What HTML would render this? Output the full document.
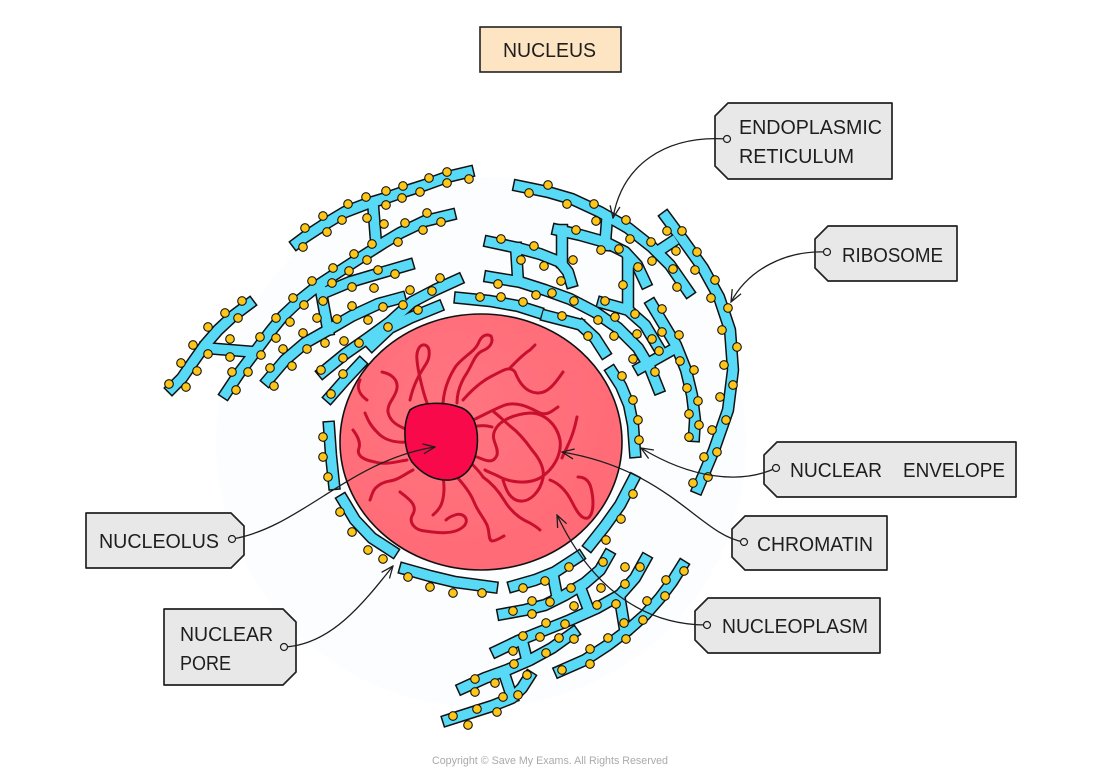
<!DOCTYPE html>
<html><head><meta charset="utf-8"><style>
html,body{margin:0;padding:0;background:#fff;}
svg{display:block;}
.t{font-family:"Liberation Sans",sans-serif;font-size:20px;fill:#1e1e1e;}
.ob{fill:none;stroke:#111;stroke-width:12.5;stroke-linecap:square;stroke-linejoin:round;}
.oc{fill:none;stroke:#58d9f6;stroke-width:9.5;stroke-linecap:square;stroke-linejoin:round;}
.dots circle{fill:#ffc61a;stroke:#111;stroke-width:1.1;}
.chr path{fill:none;stroke:#c8102e;stroke-width:3;stroke-linecap:round;stroke-linejoin:round;}
.con{fill:none;stroke:#1e1e1e;stroke-width:1.3;}
.tag{fill:#e8e8e8;stroke:#222;stroke-width:1.7;stroke-linejoin:round;}
</style></head><body>
<svg width="1100" height="781" viewBox="0 0 1100 781" xmlns="http://www.w3.org/2000/svg">
<defs>
<marker id="ah" viewBox="0 0 14 12" refX="13" refY="6" markerWidth="14" markerHeight="12" markerUnits="userSpaceOnUse" orient="auto">
<path d="M1,1 L13,6 L1,11" fill="none" stroke="#1e1e1e" stroke-width="1.3"/>
</marker>
<radialGradient id="ng" cx="0.4" cy="0.35" r="0.7">
<stop offset="0" stop-color="#ff7580"/><stop offset="1" stop-color="#ff6a76"/>
</radialGradient>
</defs>

<!-- faint glow -->
<circle cx="481" cy="442" r="265" fill="#fbfdff"/>

<!-- Title -->
<rect x="480" y="27" width="141" height="45" fill="#fde4c3" stroke="#222" stroke-width="1.6"/>
<text class="t" x="503" y="57" textLength="93" lengthAdjust="spacingAndGlyphs">NUCLEUS</text>

<!-- ER strips -->
<g id="strips">
<g class="ob">
<path d="M297,243 L305,237 L325,224 L345,212 L366,204 L386,198 L403,192 L425,185 L447,177 L468,172"/>
<path d="M373,204 L376,242"/>
<path d="M450,215 L425,221 L400,233 L385,242 L363,256 L343,269 L320,284 L300,300 L283,316 L270,332 L255,352 L240,372 L226,393"/>
<path d="M249,304 L233,316 L218,330 L205,345 L193,362 L182,378 L172,388"/>
<path d="M205,348 L255,352"/>
<path d="M326,292 L350,282 L377,274 L408,265"/>
<path d="M320,286 L328,330"/>
<path d="M268,380 L285,360 L305,343 L328,330 L352,316 L378,304 L400,298"/>
<path d="M323,372 L345,354 L368,338 L390,322 L412,302 L435,290 L457,280"/>
<path d="M372,345 L390,328 L410,318 L437,307"/>
<path d="M330,397 L345,380 L360,364"/>
<path d="M329,427 L331,455 L334,484"/>
<path d="M343,500 L355,520 L372,538 L392,551"/>
<path d="M405,569 L430,576 L455,582 L492,587"/>
<path d="M519,186 L548,192 L572,199 L600,212 L628,228 L652,247 L670,265 L688,291"/>
<path d="M607,220 L605,245"/>
<path d="M558,230 L580,235 L605,242 L625,252 L637,265 L645,282"/>
<path d="M490,242 L518,248 L540,254 L560,262 L568,272 L571,282"/>
<path d="M562,262 L562,230"/>
<path d="M516,248 L518,280"/>
<path d="M490,277 L520,282 L545,290 L570,299 L595,312 L618,328 L638,348 L650,368 L658,388"/>
<path d="M628,262 L628,305"/>
<path d="M603,303 L628,310 L645,325 L660,350"/>
<path d="M652,305 L664,325 L676,345 L686,370 L692,395 L695,420 L694,436"/>
<path d="M640,368 L672,350"/>
<path d="M666,217 L683,240 L703,268 L719,297 L730,330 L733,370 L728,410 L714,450 L698,488"/>
<path d="M672,242 L660,250"/>
<path d="M460,298 L490,301 L518,306 L537,312"/>
<path d="M547,316 L578,324"/>
<path d="M582,326 L595,338 L604,352"/>
<path d="M612,372 L621,386 L629,405 L633,425 L635,452"/>
<path d="M590,545 L605,526 L620,505 L633,480"/>
<path d="M514,586 L535,580 L555,572 L578,557"/>
<path d="M553,575 L557,596"/>
<path d="M503,614 L525,610 L545,605 L565,595 L585,583 L600,570 L608,556"/>
<path d="M580,587 L588,608"/>
<path d="M497,651 L520,640 L545,630 L570,620 L597,608 L620,595 L635,578 L645,560"/>
<path d="M522,640 L527,660"/>
<path d="M463,688 L485,678 L507,670 L530,660 L552,648 L573,633"/>
<path d="M505,676 L512,697"/>
<path d="M448,720 L470,713 L492,706 L512,698 L522,688 L529,677"/>
<path d="M560,671 L585,660 L608,645 L628,630 L645,615 L660,598 L672,582 L682,566"/>
<path d="M625,630 L620,600"/>
</g>
<g class="oc">
<path d="M297,243 L305,237 L325,224 L345,212 L366,204 L386,198 L403,192 L425,185 L447,177 L468,172"/>
<path d="M373,204 L376,242"/>
<path d="M450,215 L425,221 L400,233 L385,242 L363,256 L343,269 L320,284 L300,300 L283,316 L270,332 L255,352 L240,372 L226,393"/>
<path d="M249,304 L233,316 L218,330 L205,345 L193,362 L182,378 L172,388"/>
<path d="M205,348 L255,352"/>
<path d="M326,292 L350,282 L377,274 L408,265"/>
<path d="M320,286 L328,330"/>
<path d="M268,380 L285,360 L305,343 L328,330 L352,316 L378,304 L400,298"/>
<path d="M323,372 L345,354 L368,338 L390,322 L412,302 L435,290 L457,280"/>
<path d="M372,345 L390,328 L410,318 L437,307"/>
<path d="M330,397 L345,380 L360,364"/>
<path d="M329,427 L331,455 L334,484"/>
<path d="M343,500 L355,520 L372,538 L392,551"/>
<path d="M405,569 L430,576 L455,582 L492,587"/>
<path d="M519,186 L548,192 L572,199 L600,212 L628,228 L652,247 L670,265 L688,291"/>
<path d="M607,220 L605,245"/>
<path d="M558,230 L580,235 L605,242 L625,252 L637,265 L645,282"/>
<path d="M490,242 L518,248 L540,254 L560,262 L568,272 L571,282"/>
<path d="M562,262 L562,230"/>
<path d="M516,248 L518,280"/>
<path d="M490,277 L520,282 L545,290 L570,299 L595,312 L618,328 L638,348 L650,368 L658,388"/>
<path d="M628,262 L628,305"/>
<path d="M603,303 L628,310 L645,325 L660,350"/>
<path d="M652,305 L664,325 L676,345 L686,370 L692,395 L695,420 L694,436"/>
<path d="M640,368 L672,350"/>
<path d="M666,217 L683,240 L703,268 L719,297 L730,330 L733,370 L728,410 L714,450 L698,488"/>
<path d="M672,242 L660,250"/>
<path d="M460,298 L490,301 L518,306 L537,312"/>
<path d="M547,316 L578,324"/>
<path d="M582,326 L595,338 L604,352"/>
<path d="M612,372 L621,386 L629,405 L633,425 L635,452"/>
<path d="M590,545 L605,526 L620,505 L633,480"/>
<path d="M514,586 L535,580 L555,572 L578,557"/>
<path d="M553,575 L557,596"/>
<path d="M503,614 L525,610 L545,605 L565,595 L585,583 L600,570 L608,556"/>
<path d="M580,587 L588,608"/>
<path d="M497,651 L520,640 L545,630 L570,620 L597,608 L620,595 L635,578 L645,560"/>
<path d="M522,640 L527,660"/>
<path d="M463,688 L485,678 L507,670 L530,660 L552,648 L573,633"/>
<path d="M505,676 L512,697"/>
<path d="M448,720 L470,713 L492,706 L512,698 L522,688 L529,677"/>
<path d="M560,671 L585,660 L608,645 L628,630 L645,615 L660,598 L672,582 L682,566"/>
<path d="M625,630 L620,600"/>
</g>
</g>

<!-- ribosomes -->
<g class="dots">
<circle cx="305" cy="228" r="4.3"/><circle cx="323" cy="216" r="4.3"/><circle cx="348" cy="204" r="4.3"/><circle cx="366" cy="197" r="4.3"/><circle cx="386" cy="191" r="4.3"/><circle cx="403" cy="186" r="4.3"/><circle cx="429" cy="178" r="4.3"/><circle cx="447" cy="172" r="4.3"/><circle cx="469" cy="179" r="4.3"/>
<circle cx="447" cy="183" r="4.3"/><circle cx="420" cy="192" r="4.3"/><circle cx="402" cy="198" r="4.3"/><circle cx="386" cy="205" r="4.3"/><circle cx="342" cy="220" r="4.3"/><circle cx="327" cy="232" r="4.3"/><circle cx="303" cy="247" r="4.3"/>
<circle cx="367" cy="218" r="4.3"/><circle cx="384" cy="224" r="4.3"/><circle cx="405" cy="223" r="4.3"/><circle cx="427" cy="213" r="4.3"/><circle cx="441" cy="222" r="4.3"/><circle cx="423" cy="230" r="4.3"/><circle cx="398" cy="242" r="4.3"/>
<circle cx="372" cy="244" r="4.3"/><circle cx="354" cy="254" r="4.3"/><circle cx="367" cy="260" r="4.3"/><circle cx="333" cy="268" r="4.3"/><circle cx="349" cy="271" r="4.3"/><circle cx="378" cy="270" r="4.3"/><circle cx="395" cy="274" r="4.3"/>
<circle cx="312" cy="281" r="4.3"/><circle cx="332" cy="283" r="4.3"/><circle cx="352" cy="287" r="4.3"/><circle cx="374" cy="288" r="4.3"/><circle cx="440" cy="278" r="4.3"/><circle cx="410" cy="290" r="4.3"/><circle cx="432" cy="291" r="4.3"/>
<circle cx="293" cy="298" r="4.3"/><circle cx="323" cy="301" r="4.3"/><circle cx="304" cy="305" r="4.3"/><circle cx="352" cy="306" r="4.3"/><circle cx="383" cy="307" r="4.3"/><circle cx="403" cy="305" r="4.3"/><circle cx="418" cy="310" r="4.3"/>
<circle cx="276" cy="318" r="4.3"/><circle cx="290" cy="322" r="4.3"/><circle cx="317" cy="318" r="4.3"/><circle cx="337" cy="319" r="4.3"/><circle cx="368" cy="320" r="4.3"/><circle cx="388" cy="327" r="4.3"/>
<circle cx="260" cy="337" r="4.3"/><circle cx="276" cy="338" r="4.3"/><circle cx="303" cy="333" r="4.3"/><circle cx="325" cy="343" r="4.3"/><circle cx="344" cy="341" r="4.3"/><circle cx="359" cy="343" r="4.3"/>
<circle cx="261" cy="355" r="4.3"/><circle cx="283" cy="349" r="4.3"/><circle cx="307" cy="349" r="4.3"/><circle cx="343" cy="358" r="4.3"/>
<circle cx="270" cy="368" r="4.3"/><circle cx="292" cy="366" r="4.3"/><circle cx="321" cy="370" r="4.3"/><circle cx="343" cy="374" r="4.3"/><circle cx="274" cy="386" r="4.3"/><circle cx="331" cy="394" r="4.3"/>
<circle cx="242" cy="301" r="4.3"/><circle cx="225" cy="313" r="4.3"/><circle cx="238" cy="318" r="4.3"/><circle cx="208" cy="327" r="4.3"/><circle cx="230" cy="339" r="4.3"/><circle cx="193" cy="345" r="4.3"/><circle cx="208" cy="354" r="4.3"/><circle cx="230" cy="357" r="4.3"/><circle cx="181" cy="363" r="4.3"/><circle cx="197" cy="371" r="4.3"/><circle cx="232" cy="372" r="4.3"/><circle cx="248" cy="372" r="4.3"/><circle cx="236" cy="390" r="4.3"/><circle cx="169" cy="384" r="4.3"/><circle cx="186" cy="387" r="4.3"/>
<circle cx="323" cy="437" r="4.3"/><circle cx="323" cy="457" r="4.3"/><circle cx="328" cy="477" r="4.3"/><circle cx="340" cy="512" r="4.3"/><circle cx="352" cy="532" r="4.3"/><circle cx="368" cy="550" r="4.3"/><circle cx="383" cy="559" r="4.3"/><circle cx="408" cy="577" r="4.3"/><circle cx="430" cy="587" r="4.3"/><circle cx="453" cy="593" r="4.3"/><circle cx="482" cy="593" r="4.3"/>
<circle cx="548" cy="185" r="4.3"/><circle cx="529" cy="193" r="4.3"/><circle cx="567" cy="204" r="4.3"/><circle cx="594" cy="204" r="4.3"/><circle cx="596" cy="221" r="4.3"/><circle cx="626" cy="220" r="4.3"/><circle cx="630" cy="239" r="4.3"/><circle cx="651" cy="242" r="4.3"/><circle cx="652" cy="261" r="4.3"/><circle cx="673" cy="269" r="4.3"/><circle cx="677" cy="287" r="4.3"/>
<circle cx="667" cy="231" r="4.3"/><circle cx="682" cy="231" r="4.3"/><circle cx="676" cy="251" r="4.3"/><circle cx="697" cy="252" r="4.3"/><circle cx="695" cy="270" r="4.3"/><circle cx="715" cy="280" r="4.3"/><circle cx="711" cy="298" r="4.3"/><circle cx="728" cy="308" r="4.3"/><circle cx="722" cy="330" r="4.3"/><circle cx="737" cy="347" r="4.3"/><circle cx="724" cy="365" r="4.3"/><circle cx="733" cy="385" r="4.3"/><circle cx="720" cy="397" r="4.3"/><circle cx="726" cy="420" r="4.3"/><circle cx="712" cy="430" r="4.3"/><circle cx="717" cy="452" r="4.3"/><circle cx="704" cy="457" r="4.3"/><circle cx="708" cy="477" r="4.3"/><circle cx="693" cy="483" r="4.3"/>
<circle cx="501" cy="239" r="4.3"/><circle cx="534" cy="246" r="4.3"/><circle cx="576" cy="230" r="4.3"/><circle cx="601" cy="250" r="4.3"/><circle cx="619" cy="249" r="4.3"/><circle cx="638" cy="267" r="4.3"/><circle cx="521" cy="260" r="4.3"/><circle cx="544" cy="266" r="4.3"/><circle cx="573" cy="260" r="4.3"/><circle cx="561" cy="281" r="4.3"/><circle cx="623" cy="285" r="4.3"/>
<circle cx="498" cy="284" r="4.3"/><circle cx="536" cy="295" r="4.3"/><circle cx="552" cy="293" r="4.3"/><circle cx="574" cy="301" r="4.3"/><circle cx="605" cy="301" r="4.3"/><circle cx="615" cy="317" r="4.3"/><circle cx="635" cy="314" r="4.3"/><circle cx="598" cy="320" r="4.3"/><circle cx="614" cy="336" r="4.3"/><circle cx="637" cy="334" r="4.3"/><circle cx="652" cy="339" r="4.3"/><circle cx="659" cy="351" r="4.3"/>
<circle cx="662" cy="309" r="4.3"/><circle cx="662" cy="332" r="4.3"/><circle cx="679" cy="335" r="4.3"/><circle cx="680" cy="361" r="4.3"/><circle cx="694" cy="370" r="4.3"/><circle cx="687" cy="388" r="4.3"/><circle cx="698" cy="401" r="4.3"/><circle cx="689" cy="414" r="4.3"/><circle cx="699" cy="425" r="4.3"/><circle cx="689" cy="437" r="4.3"/><circle cx="633" cy="359" r="4.3"/><circle cx="655" cy="372" r="4.3"/>
<circle cx="480" cy="297" r="4.3"/><circle cx="501" cy="297" r="4.3"/><circle cx="523" cy="302" r="4.3"/><circle cx="562" cy="316" r="4.3"/><circle cx="588" cy="336" r="4.3"/><circle cx="622" cy="376" r="4.3"/><circle cx="633" cy="400" r="4.3"/><circle cx="638" cy="420" r="4.3"/><circle cx="639" cy="440" r="4.3"/>
<circle cx="633" cy="494" r="4.3"/><circle cx="621" cy="519" r="4.3"/><circle cx="606" cy="540" r="4.3"/>
<circle cx="569" cy="567" r="4.3"/><circle cx="545" cy="581" r="4.3"/><circle cx="523" cy="588" r="4.3"/><circle cx="603" cy="562" r="4.3"/><circle cx="625" cy="567" r="4.3"/><circle cx="640" cy="567" r="4.3"/><circle cx="571" cy="588" r="4.3"/><circle cx="550" cy="602" r="4.3"/><circle cx="532" cy="601" r="4.3"/><circle cx="513" cy="611" r="4.3"/><circle cx="532" cy="614" r="4.3"/><circle cx="574" cy="606" r="4.3"/><circle cx="601" cy="588" r="4.3"/><circle cx="625" cy="584" r="4.3"/><circle cx="597" cy="605" r="4.3"/><circle cx="616" cy="604" r="4.3"/><circle cx="624" cy="623" r="4.3"/><circle cx="643" cy="620" r="4.3"/><circle cx="546" cy="623" r="4.3"/><circle cx="565" cy="624" r="4.3"/><circle cx="523" cy="636" r="4.3"/><circle cx="540" cy="637" r="4.3"/><circle cx="513" cy="651" r="4.3"/><circle cx="559" cy="638" r="4.3"/><circle cx="574" cy="639" r="4.3"/><circle cx="546" cy="653" r="4.3"/><circle cx="514" cy="664" r="4.3"/><circle cx="590" cy="649" r="4.3"/><circle cx="608" cy="638" r="4.3"/><circle cx="626" cy="639" r="4.3"/><circle cx="647" cy="601" r="4.3"/><circle cx="665" cy="596" r="4.3"/><circle cx="666" cy="580" r="4.3"/><circle cx="684" cy="571" r="4.3"/><circle cx="590" cy="664" r="4.3"/><circle cx="562" cy="670" r="4.3"/><circle cx="475" cy="679" r="4.3"/><circle cx="495" cy="683" r="4.3"/><circle cx="527" cy="675" r="4.3"/><circle cx="475" cy="692" r="4.3"/><circle cx="503" cy="697" r="4.3"/><circle cx="518" cy="695" r="4.3"/><circle cx="453" cy="716" r="4.3"/><circle cx="477" cy="709" r="4.3"/><circle cx="497" cy="712" r="4.3"/><circle cx="468" cy="725" r="4.3"/>
</g>

<!-- Nucleus -->
<ellipse cx="481" cy="442" rx="141" ry="128" fill="url(#ng)" stroke="#111" stroke-width="1.6"/>

<!-- Chromatin -->
<g class="chr">
<path d="M427,403 C423,392 418,372 417,360 C416,350 420,344 425,345 C431,347 430,358 426,364 C421,372 414,382 410,400"/>
<path d="M443,403 C444,390 448,378 456,366 C464,356 474,352 478,344 C481,336 486,333 491,336 C494,342 490,348 482,351 C474,355 472,366 465,376 C459,386 457,395 457,403"/>
<path d="M463,400 C470,392 480,382 492,376 C502,371 510,365 515,372 C519,382 525,392 537,393 C548,394 556,382 563,372"/>
<path d="M510,368 C516,362 522,355 530,350 L535,345"/>
<path d="M408,430 C398,426 390,422 388,412 C387,403 396,397 397,388 C398,380 392,374 382,372"/>
<path d="M407,442 C395,443 384,440 377,432 C370,425 368,420 365,413"/>
<path d="M407,460 C395,462 385,465 375,462 C364,460 356,456 359,448 C361,441 356,434 353,430"/>
<path d="M413,470 C405,474 398,480 390,481 C382,482 375,487 373,492 C371,496 371,498 370,500"/>
<path d="M400,492 C408,498 418,505 413,514 C408,522 414,530 425,531 C438,533 455,535 464,526 C470,519 463,512 455,515 C449,517 446,520 446,520"/>
<path d="M443,477 C445,488 444,500 440,507 C437,512 434,514 433,515"/>
<path d="M457,477 C463,484 470,492 474,502 C478,512 484,518 487,525 C490,532 488,540 492,541 C496,541 500,538 504,536"/>
<path d="M477,457 C485,460 493,465 497,455 C499,446 490,440 495,430 C500,420 515,414 530,413 C545,413 557,425 560,440 C562,455 553,470 540,478 C527,485 508,482 498,476 C492,473 488,472 485,470"/>
<path d="M503,480 C506,490 510,500 520,501 C530,502 540,492 543,478 C545,467 538,457 532,450 C525,440 518,432 510,426 C503,420 498,415 494,412"/>
<path d="M473,420 C482,416 492,410 505,405 C518,401 530,408 540,413 C548,416 553,410 558,407"/>
<path d="M577,417 C575,427 572,437 568,445 C565,452 563,455 562,458"/>
<path d="M550,480 C558,483 566,490 572,502 C577,512 582,520 588,518 C594,514 594,500 591,488 C589,480 584,477 578,477"/>
<path d="M483,477 C490,482 498,490 504,500 C510,510 518,518 530,523 C535,526 538,528 540,530"/>
<path d="M470,462 C476,468 480,472 483,477"/>
<path d="M472,427 C480,425 486,425 492,427"/>
<path d="M367,400 C360,395 356,388 360,380"/>
</g>

<!-- Nucleolus -->
<path d="M410,410 C420,402 445,401 462,408 C475,414 479,430 477,448 C475,465 466,478 450,480 C435,481 422,474 412,462 C404,450 402,425 410,410 Z" fill="#f7094a" stroke="#111" stroke-width="1.6"/>

<!-- Tags -->
<polygon class="tag" points="728,103 892,103 892,179 728,179 715,166 715,116"/>
<polygon class="tag" points="828,226 957,226 957,281 828,281 815,268 815,239"/>
<polygon class="tag" points="777,442 1016,442 1016,497 777,497 764,484 764,455"/>
<polygon class="tag" points="745,516 887,516 887,570 745,570 732,557 732,529"/>
<polygon class="tag" points="708,598 880,598 880,653 708,653 695,640 695,611"/>
<polygon class="tag" points="86,513 231,513 244,526 244,555 231,568 86,568"/>
<polygon class="tag" points="164,609 283,609 296,622 296,672 283,685 164,685"/>

<text class="t" x="739" y="134" textLength="143" lengthAdjust="spacingAndGlyphs">ENDOPLASMIC</text>
<text class="t" x="739" y="163" textLength="115" lengthAdjust="spacingAndGlyphs">RETICULUM</text>
<text class="t" x="842" y="262" textLength="101" lengthAdjust="spacingAndGlyphs">RIBOSOME</text>
<text class="t" x="790" y="477" textLength="92" lengthAdjust="spacingAndGlyphs">NUCLEAR</text>
<text class="t" x="903" y="477" textLength="102" lengthAdjust="spacingAndGlyphs">ENVELOPE</text>
<text class="t" x="757" y="551" textLength="116" lengthAdjust="spacingAndGlyphs">CHROMATIN</text>
<text class="t" x="722" y="633" textLength="146" lengthAdjust="spacingAndGlyphs">NUCLEOPLASM</text>
<text class="t" x="99" y="548" textLength="120" lengthAdjust="spacingAndGlyphs">NUCLEOLUS</text>
<text class="t" x="180" y="641" textLength="93" lengthAdjust="spacingAndGlyphs">NUCLEAR</text>
<text class="t" x="180" y="670" textLength="51" lengthAdjust="spacingAndGlyphs">PORE</text>

<!-- Connectors -->
<path class="con" d="M727,139 C665,135 622,165 613,218" marker-end="url(#ah)"/>
<path class="con" d="M827,252 C785,250 748,270 731,302" marker-end="url(#ah)"/>
<path class="con" d="M776,468 C740,485 690,478 641,448" marker-end="url(#ah)"/>
<path class="con" d="M744,542 C700,535 670,470 562,452" marker-end="url(#ah)"/>
<path class="con" d="M707,625 C650,625 595,595 557,515" marker-end="url(#ah)"/>
<path class="con" d="M232,539 C300,528 350,460 435,447" marker-end="url(#ah)"/>
<path class="con" d="M284,647 C330,645 362,605 393,566" marker-end="url(#ah)"/>

<g fill="#e8e8e8" stroke="#1e1e1e" stroke-width="1.2">
<circle cx="727" cy="139" r="3.5"/><circle cx="827" cy="252" r="3.5"/><circle cx="776" cy="468" r="3.5"/><circle cx="744" cy="542" r="3.5"/><circle cx="707" cy="625" r="3.5"/><circle cx="232" cy="539" r="3.5"/><circle cx="284" cy="647" r="3.5"/>
</g>

<text x="432" y="764" font-family="'Liberation Sans',sans-serif" font-size="11" fill="#aaaaaa" textLength="236" lengthAdjust="spacingAndGlyphs">Copyright © Save My Exams. All Rights Reserved</text>
</svg>
</body></html>
